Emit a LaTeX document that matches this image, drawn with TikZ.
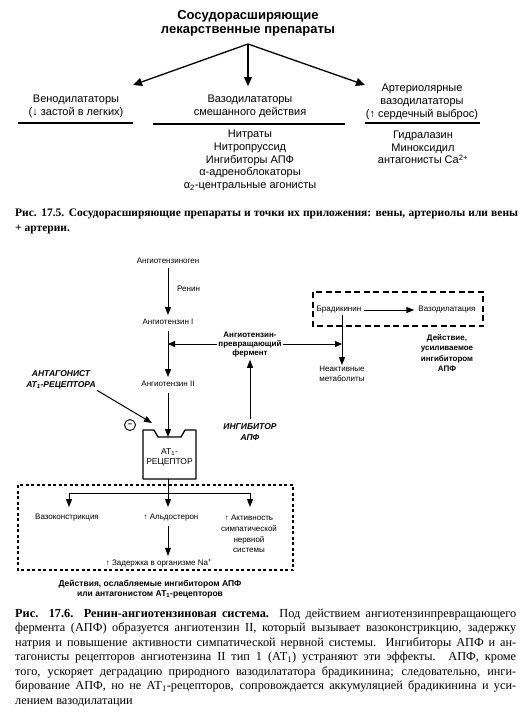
\documentclass[tikz,border=0pt]{standalone}
\usepackage{fontspec}
\setmainfont{Liberation Serif}
\newfontfamily\hv{Liberation Sans}
\usetikzlibrary{arrows.meta}
\tikzset{
  titlef/.style={font=\hv\bfseries\fontsize{13}{14}\selectfont, align=center, inner sep=0pt},
  topf/.style={font=\hv\fontsize{11}{13}\selectfont, align=center, inner sep=0pt},
  listf/.style={font=\hv\fontsize{11}{12.75}\selectfont, align=center, inner sep=0pt},
  sm/.style={font=\hv\fontsize{8}{10}\selectfont, align=center, inner sep=1pt},
  smb/.style={font=\hv\bfseries\fontsize{8}{9}\selectfont, align=center, inner sep=1pt},
  smbi/.style={font=\hv\bfseries\itshape\fontsize{8.5}{10.5}\selectfont, align=center, inner sep=1pt},
  bigarrow/.style={line width=1.3pt, -{Triangle[length=9pt,width=8pt]}},
  rulef/.style={line width=1.2pt},
  arr/.style={line width=1pt, -{Triangle[length=8pt,width=6pt]}},
  plain/.style={line width=1pt},
  dbl/.style={line width=0.8pt, {Triangle[length=7pt,width=6pt]}-{Triangle[length=7pt,width=6pt]}},
  dashA/.style={line width=1.3pt, dash pattern=on 6pt off 3.5pt},
  dashB/.style={line width=1.2pt, dash pattern=on 3pt off 2.5pt},
  capf/.style={font=\bfseries\fontsize{11.5}{15}\selectfont, align=left, inner sep=0pt, anchor=base west},
  capg/.style={font=\fontsize{12.3}{14.5}\selectfont, align=left, inner sep=0pt, anchor=base west},
}
\begin{document}
\begin{tikzpicture}[x=1pt,y=-1pt]
\useasboundingbox (0,0) rectangle (532,713);
\fill[white] (0,0) rectangle (532,713);

% ---------- Fig 17.5 ----------
\node[titlef] (title) at (248,23) {Сосудорасширяющие\\лекарственные препараты};
\coordinate (src) at (248,44);
\coordinate (tipL) at (133,85);
\coordinate (tipM) at (248,86);
\coordinate (tipR) at (365,85);
\draw[bigarrow] (src) -- (tipL);
\draw[bigarrow] (src) -- (tipM);
\draw[bigarrow] (src) -- (tipR);

\node[topf] (veno) at (76,106) {Венодилататоры\\(↓ застой в легких)};
\node[topf] (mixed) at (250,106) {Вазодилататоры\\смешанного действия};
\node[topf] (art) at (422,101.5) {Артериолярные\\вазодилататоры\\(↑ сердечный выброс)};
\draw[rulef] (18,123) -- (133,123);
\draw[rulef] (153,124) -- (345,124);
\draw[rulef] (365,123) -- (480,123);

\node[listf] (mixlist) at (250,160.5) {Нитраты\\Нитропруссид\\Ингибиторы АПФ\\α-адреноблокаторы\\α\textsubscript{2}-центральные агонисты};
\node[listf] (artlist) at (423,147.5) {Гидралазин\\Миноксидил\\антагонисты Ca\textsuperscript{2+}};

\node[capf] (cap1) at (15,231) {\makebox[503pt][s]{Рис. 17.5. Сосудорасширяющие препараты и точки их приложения: вены, артериолы или вены}\\+ артерии.};

% ---------- Fig 17.6 ----------
\node[sm] (agen) at (168,261) {Ангиотензиноген};
\node[sm, anchor=west] (renin) at (176,289) {Ренин};
\node[sm] (a1) at (168,322) {Ангиотензин I};
\node[sm] (a2) at (168,384) {Ангиотензин II};
\draw[arr, shorten <=3pt, shorten >=3pt] (agen) -- (a1);
\draw[arr, shorten <=5pt, shorten >=3pt] (a1) -- (a2);

\node[sm] (brad) at (339,310) {Брадикинин};
\node[sm] (vaso) at (447,310) {Вазодилатация};
\node[sm] (inact) at (342,374) {Неактивные\\метаболиты};
\draw[arr, shorten <=2pt, shorten >=3pt] (brad) -- (vaso);
\draw[arr] (inact.north |- brad.south) -- (inact.north);
\draw[dashA] (313,292) rectangle (483,326);
\node[smb, font=\hv\bfseries\fontsize{8}{10.5}\selectfont] (enh) at (447,353) {Действие,\\усиливаемое\\ингибитором\\АПФ};

\draw[dbl] (a1 |- 0,344) -- (inact.north |- 0,344);
\node[smb, fill=white] (ace) at (250,345) {Ангиотензин-\\превращающий\\фермент};

\node[smbi] (inh) at (250,432) {ИНГИБИТОР\\АПФ};
\draw[arr, shorten <=4pt, shorten >=1pt] (inh.north) -- (ace.south);

\node[smbi] (antag) at (61,380) {АНТАГОНИСТ\\АТ\textsubscript{1}-РЕЦЕПТОРА};
\coordinate (rtip) at (152,423);
\draw[arr] (antag.south east) -- (rtip);
\node[draw, circle, line width=0.9pt, inner sep=0pt, minimum size=11pt, font=\hv\bfseries\fontsize{8}{8}\selectfont] (minus) at (130,425) {–};

% receptor
\draw[line width=1.3pt, line join=round] (143,430) -- (154,430) -- (158,437) -- (181,437) -- (185,430) -- (196,430) -- (196,479) -- (143,479) -- cycle;
\node[font=\hv\fontsize{8.5}{10}\selectfont, align=center, inner sep=0pt] (rec) at (169.5,457) {АТ\textsubscript{1}-\\РЕЦЕПТОР};
\coordinate (notch) at (168,437);
\draw[arr, shorten <=5pt] (a2) -- (notch);

% effects
\coordinate (recb) at (168,479);
\coordinate (br) at (168,493);
\coordinate (bL) at (69,493);
\coordinate (bR) at (250,493);
\node[sm] (vc) at (67,518) {Вазоконстрикция};
\node[sm] (ald) at (171,518) {↑ Альдостерон};
\node[sm, font=\hv\fontsize{8}{10.7}\selectfont] (sym) at (249,534) {↑ Активность\\симпатической\\нервной\\системы};
\node[sm] (na) at (159,563) {↑ Задержка в организме Na\textsuperscript{+}};
\draw[plain] (recb) -- (br);
\draw[plain] (bL) -- (bR);
\draw[arr] (bL) -- (69,507);
\draw[arr] (br) -- (168,507);
\draw[arr] (bR) -- (250,507);
\draw[arr, shorten <=3pt, shorten >=2pt] (br |- ald.south) -- (br |- na.north);
\draw[dashB] (18,485) rectangle (293,570);
\node[smb, font=\hv\bfseries\fontsize{8.5}{10}\selectfont] (acts) at (150,589) {Действия, ослабляемые ингибитором АПФ\\или антагонистом АТ\textsubscript{1}-рецепторов};

% caption 17.6
\node[capg] (cap2) at (15,704) {%
\makebox[501pt][s]{\textbf{Рис. 17.6. Ренин-ангиотензиновая система.} Под действием ангиотензинпревращающего}\\
\makebox[501pt][s]{фермента (АПФ) образуется ангиотензин II, который вызывает вазоконстрикцию, задержку}\\
\makebox[501pt][s]{натрия и повышение активности симпатической нервной системы. Ингибиторы АПФ и ан-}\\
\makebox[501pt][s]{тагонисты рецепторов ангиотензина II тип 1 (АТ\textsubscript{1}) устраняют эти эффекты. АПФ, кроме}\\
\makebox[501pt][s]{того, ускоряет деградацию природного вазодилататора брадикинина; следовательно, инги-}\\
\makebox[501pt][s]{бирование АПФ, но не АТ\textsubscript{1}-рецепторов, сопровождается аккумуляцией брадикинина и уси-}\\
лением вазодилатации};
\end{tikzpicture}
\end{document}
